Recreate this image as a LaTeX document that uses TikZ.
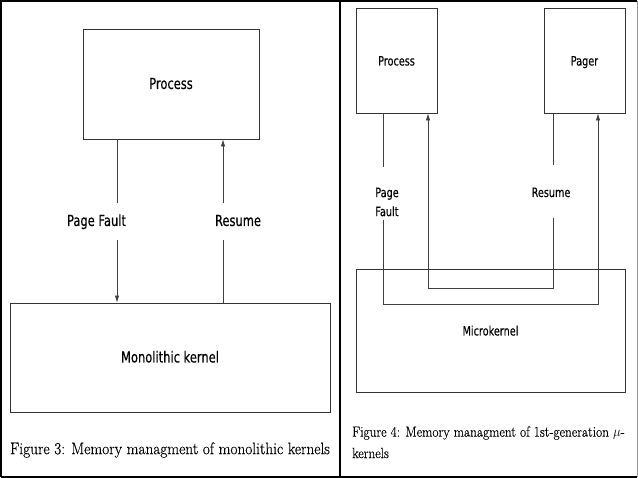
\documentclass[tikz,border=0pt]{standalone}
\usepackage{fontspec}
\usetikzlibrary{arrows.meta}
\newfontfamily\labfont{DejaVu Sans}[FakeStretch=0.75,FakeBold=0.3]
\newfontfamily\capfont{Latin Modern Roman}[FakeBold=0.4]
\tikzset{
  box/.style={draw=black!80, line width=0.9pt, rectangle, inner sep=0pt},
  lablg/.style={font=\labfont\fontsize{15.3}{18}\selectfont, inner sep=0pt, text height=1em, text depth=0pt},
  labmd/.style={font=\labfont\fontsize{12.9}{16}\selectfont, inner sep=0pt, text height=1em, text depth=0pt},
  labsm/.style={font=\labfont\fontsize{12.9}{20}\selectfont, inner sep=0pt, align=left},
  wire/.style={draw=black!75, line width=0.7pt},
  arr/.style={wire, -{Latex[length=7pt,width=4.5pt]}},
  frame/.style={draw=black, line width=2pt}
}
\begin{document}
\begin{tikzpicture}[x=1pt,y=-1pt]
\useasboundingbox (0,0) rectangle (638,478);
% frame
\draw[frame] (1,477) -- (1,1) -- (637,1);
\draw[frame] (1,477) -- (637,477);
\draw[draw=black, line width=2.5pt] (340,0) -- (340,478);
\draw[draw=black!40, line width=0.6pt] (637,1) -- (637,477);

% ---------- left panel ----------
\node[box, minimum width=176pt, minimum height=110pt, lablg] (lproc) at (171,84) {Process};
\node[box, minimum width=320pt, minimum height=109pt, lablg] (lmono) at (170,357.5) {Monolithic kernel};
\node[lablg] (lpf) at (96.5,221) {Page Fault};
\node[lablg] (lres) at (238,221) {Resume};
\coordinate (la1) at (117,203);
\coordinate (la2) at (117,240);
\coordinate (lb1) at (223,203);
\coordinate (lb2) at (223,240);
\draw[wire] (lproc.south -| la1) -- (la1);
\draw[arr] (la2) -- (lmono.north -| la2);
\draw[arr] (lb1) -- (lproc.south -| lb1);
\draw[wire] (lmono.north -| lb2) -- (lb2);
\node[inner sep=0pt] (lcap) at (170,450) {\scalebox{0.91}[1]{\capfont\fontsize{16.8}{20}\selectfont Figure 3: Memory managment of monolithic kernels}};

% ---------- right panel ----------
\node[box, minimum width=81pt, minimum height=105pt, labmd] (rproc) at (396.5,60.5) {Process};
\node[box, minimum width=81pt, minimum height=105pt, labmd] (rpager) at (584.5,60.5) {Pager};
\node[box, minimum width=269pt, minimum height=123pt, labmd] (rmicro) at (490.5,330.5) {Microkernel};
\node[labsm] (rpf) at (387,202) {Page\\[-1pt]Fault};
\node[labmd] (rres) at (551,192) {Resume};
\coordinate (ra1) at (383,167);
\coordinate (ra2) at (383,220);
\coordinate (ra3) at (383,304);
\coordinate (ra4) at (598,304);
\coordinate (rb1) at (553,165);
\coordinate (rb2) at (553,218);
\coordinate (rb3) at (553,288);
\coordinate (rb4) at (428,288);
\draw[wire] (rproc.south -| ra1) -- (ra1);
\draw[arr] (ra2) -- (ra3) -- (ra4) -- (rpager.south -| ra4);
\draw[wire] (rpager.south -| rb1) -- (rb1);
\draw[arr] (rb2) -- (rb3) -- (rb4) -- (rproc.south -| rb4);
\node[inner sep=0pt, anchor=west] (rcap1) at (352,433) {\scalebox{0.9}[1]{\capfont\fontsize{14.8}{18}\selectfont Figure 4: Memory managment of 1st-generation $\mu$-}};
\node[inner sep=0pt, anchor=west] (rcap2) at (352,453) {\scalebox{0.9}[1]{\capfont\fontsize{14.8}{18}\selectfont kernels}};
\end{tikzpicture}
\end{document}
